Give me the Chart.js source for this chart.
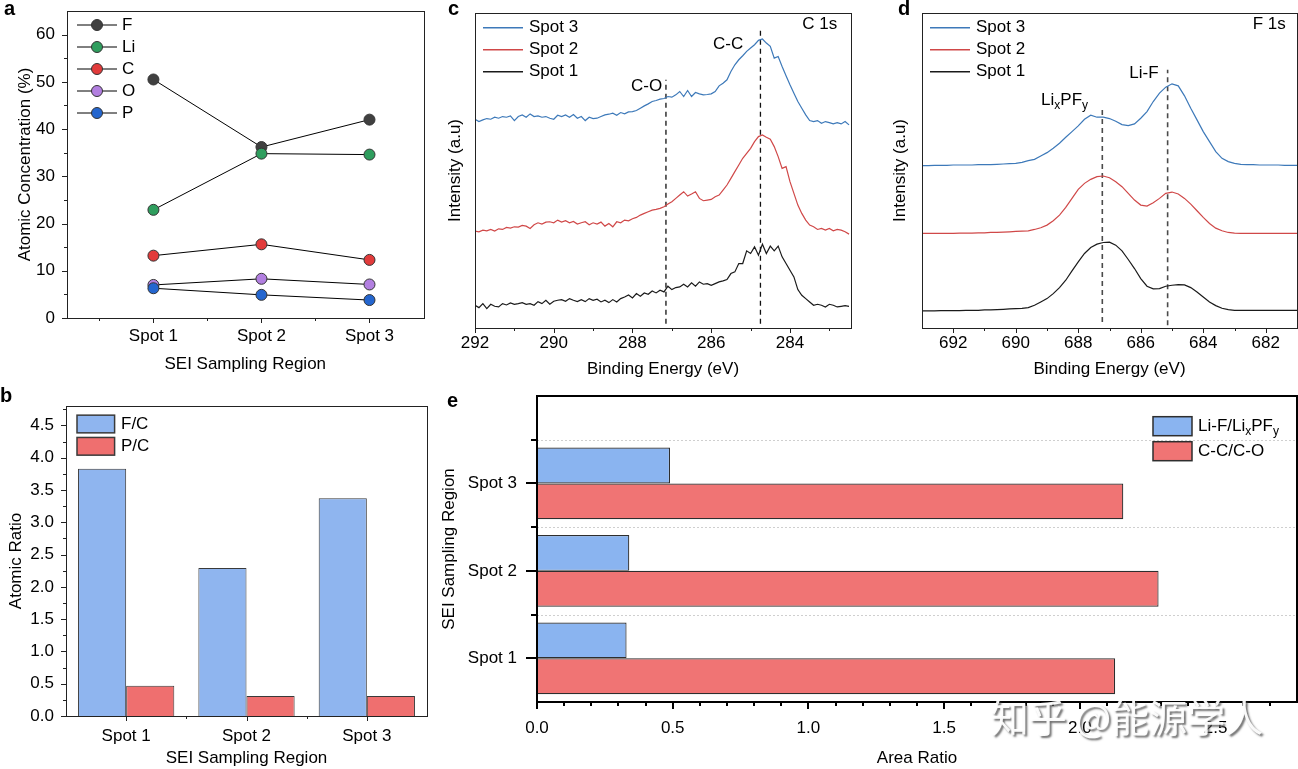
<!DOCTYPE html>
<html>
<head>
<meta charset="utf-8">
<script src="https://cdn.jsdelivr.net/npm/chart.js@4.4.1/dist/chart.umd.min.js"></script>
<style>
    body { margin: 0; background: #fff; width: 1298px; height: 769px; position: relative; overflow: hidden; }
    canvas { position: absolute; }
    .tag { position: absolute; font: bold 20px "Liberation Sans", Arial, sans-serif; line-height: 20px; color: #000; z-index: 2; }
</style>
</head>
<body>
<canvas id="chartA" width="430" height="385" style="left:0;top:0"></canvas>
<canvas id="chartB" width="430" height="384" style="left:0;top:385px"></canvas>
<canvas id="chartC" width="440" height="385" style="left:430px;top:0"></canvas>
<canvas id="chartD" width="428" height="385" style="left:870px;top:0"></canvas>
<canvas id="chartE" width="868" height="384" style="left:430px;top:385px"></canvas>
<div class="tag" style="left:4px;top:-2px">a</div>
<div class="tag" style="left:0;top:385px">b</div>
<div class="tag" style="left:448px;top:-2px">c</div>
<div class="tag" style="left:898px;top:-2px">d</div>
<div class="tag" style="left:447px;top:390px">e</div>

<script>
/* =========================================
   DATA
========================================= */

const spotLabels = ["Spot 1", "Spot 2", "Spot 3"];
const spotPositions = [1, 2, 3];

// a - atomic concentration (%)
const elementNames = ["F", "Li", "C", "O", "P"];
const fConc = [50.5, 36.2, 42.0];
const liConc = [22.9, 34.8, 34.6];
const cConc = [13.2, 15.6, 12.3];
const oConc = [7.0, 8.3, 7.1];
const pConc = [6.3, 4.9, 3.8];
const concTicks = [0, 10, 20, 30, 40, 50, 60];
const concMinorTicks = [5, 15, 25, 35, 45, 55];

// b - atomic ratio
const ratioNames = ["F/C", "P/C"];
const fcRatio = [3.83, 2.29, 3.37];
const pcRatio = [0.47, 0.31, 0.31];
const ratioTicks = [0, 0.5, 1.0, 1.5, 2.0, 2.5, 3.0, 3.5, 4.0, 4.5];
const ratioMinorTicks = [0.25, 0.75, 1.25, 1.75, 2.25, 2.75, 3.25, 3.75, 4.25, 4.75];

// c - C 1s spectra (a.u.)
const c1sEnergy = [
    292.0, 291.9, 291.8, 291.7, 291.6, 291.5, 291.4, 291.3, 291.2, 291.1,
    291.0, 290.9, 290.8, 290.7, 290.6, 290.5, 290.4, 290.3, 290.2, 290.1,
    290.0, 289.9, 289.8, 289.7, 289.6, 289.5, 289.4, 289.3, 289.2, 289.1,
    289.0, 288.9, 288.8, 288.7, 288.6, 288.5, 288.4, 288.3, 288.2, 288.1,
    288.0, 287.9, 287.8, 287.7, 287.6, 287.5, 287.4, 287.3, 287.2, 287.1,
    287.0, 286.9, 286.8, 286.7, 286.6, 286.5, 286.4, 286.3, 286.2, 286.1,
    286.0, 285.9, 285.8, 285.7, 285.6, 285.5, 285.4, 285.3, 285.2, 285.1,
    285.0, 284.9, 284.8, 284.7, 284.6, 284.5, 284.4, 284.3, 284.2, 284.1,
    284.0, 283.9, 283.8, 283.7, 283.6, 283.5, 283.4, 283.3, 283.2, 283.1,
    283.0, 282.9, 282.8, 282.7, 282.6, 282.5
];
const c1sSpot3 = [
    642, 635, 640, 644, 642, 648, 645, 650, 648, 652,
    638, 650, 655, 648, 658, 650, 652, 648, 650, 645,
    642, 654, 650, 655, 648, 656, 645, 650, 638, 648,
    644, 645, 650, 655, 657, 660, 654, 662, 658, 664,
    665, 668, 675, 682, 688, 695, 698, 702, 704, 710,
    708, 715, 725, 710, 728, 710, 722, 718, 715, 716,
    718, 725, 742, 750, 760, 785, 805, 820, 832, 845,
    855, 865, 878, 882, 870, 860, 825, 830, 800, 772,
    745, 720, 695, 675, 655, 638, 635, 638, 630, 635,
    632, 628, 632, 628, 635, 625
];
const c1sSpot2 = [
    307, 305, 310, 308, 312, 307, 314, 312, 318, 316,
    320, 319, 324, 322, 315, 326, 332, 328, 334, 335,
    332, 340, 334, 338, 332, 336, 328, 332, 335, 326,
    332, 328, 334, 322, 330, 320, 335, 332, 340, 338,
    344, 348, 355, 360, 365, 370, 372, 375, 380, 388,
    395, 405, 415, 425, 412, 418, 425, 405, 398, 400,
    402, 410, 415, 430, 445, 465, 485, 505, 525, 540,
    555, 575, 590, 595, 588, 582, 560, 530, 495, 500,
    455, 420, 385, 360, 340, 325, 320, 312, 315, 310,
    315, 308, 312, 310, 305, 298
];
const c1sSpot1 = [
    85, 78, 90, 75, 88, 82, 80, 90, 86, 92,
    88, 90, 93, 88, 90, 85, 96, 90, 100, 88,
    97, 100, 102, 97, 105, 100, 96, 102, 96, 105,
    100, 103, 95, 100, 93, 102, 95, 105, 110, 116,
    107, 120, 112, 122, 118, 128, 122, 130, 125, 142,
    132, 138, 140, 148, 140, 152, 142, 155, 148, 150,
    145, 150, 155, 158, 162, 180, 185, 210, 210, 248,
    240, 260, 235, 268, 240, 262, 248, 262, 230, 210,
    190, 170, 132, 115, 105, 95, 85, 88, 85, 80,
    88, 85, 80, 82, 84, 82
];
const c1sPeakEnergies = [287.15, 284.75];
const c1sPeakLineTops = [760, 915];
const c1sPeakLineBottom = 30;
const c1sTicks = [284, 286, 288, 290, 292];
const c1sMinorTicks = [283, 285, 287, 289, 291];

// d - F 1s spectra (a.u.)
const f1sEnergy = [
    693.0, 692.8, 692.6, 692.4, 692.2, 692.0, 691.8, 691.6, 691.4, 691.2,
    691.0, 690.8, 690.6, 690.4, 690.2, 690.0, 689.8, 689.6, 689.4, 689.2,
    689.0, 688.8, 688.6, 688.4, 688.2, 688.0, 687.8, 687.6, 687.4, 687.2,
    687.0, 686.8, 686.6, 686.4, 686.2, 686.0, 685.8, 685.6, 685.4, 685.2,
    685.0, 684.8, 684.6, 684.4, 684.2, 684.0, 683.8, 683.6, 683.4, 683.2,
    683.0, 682.8, 682.6, 682.4, 682.2, 682.0, 681.8, 681.6, 681.4, 681.2, 681.0
];
const f1sSpot3 = [
    503, 503, 504, 504, 504, 505, 505, 505, 505, 506,
    506, 506, 507, 508, 509, 510, 513, 518, 522, 532,
    542, 555, 570, 588, 605, 622, 642, 654, 648, 648,
    644, 636, 626, 623, 628, 645, 665, 695, 720, 738,
    748, 742, 712, 675, 640, 605, 575, 545, 525, 515,
    510, 507, 506, 506, 505, 505, 505, 505, 504, 504, 504
];
const f1sSpot2 = [
    300, 300, 300, 300, 300, 300, 301, 301, 301, 302,
    302, 303, 303, 304, 305, 306, 307, 308, 312, 317,
    325, 338, 355, 378, 405, 432, 450, 462, 470, 472,
    467, 455, 440, 420, 400, 385, 382, 392, 405, 420,
    424, 418, 405, 388, 368, 348, 330, 316, 308, 303,
    301, 300, 300, 300, 300, 300, 300, 300, 300, 300, 300
];
const f1sSpot1 = [
    68, 68, 68, 69, 69, 69, 69, 70, 70, 70,
    71, 71, 72, 73, 74, 75, 76, 78, 85, 95,
    105, 120, 138, 160, 188, 215, 240, 258, 268, 273,
    274, 265, 248, 222, 195, 165, 142, 134, 135, 142,
    145, 147, 146, 138, 125, 110, 95, 84, 76, 72,
    70, 70, 70, 70, 70, 70, 70, 70, 70, 70, 70
];
const f1sPeakEnergies = [687.23, 685.14];
const f1sPeakLineTops = [680, 790];
const f1sPeakLineBottoms = [35, 25];
const f1sTicks = [682, 684, 686, 688, 690, 692];
const f1sMinorTicks = [683, 685, 687, 689, 691];

const spectraNames = ["Spot 3", "Spot 2", "Spot 1"];

// e - area ratio
const areaNames = ["Li-F/Li_{x}PF_{y}", "C-C/C-O"];
const liFRatio = [0.33, 0.34, 0.49];
const ccRatio = [2.13, 2.29, 2.16];
const areaTicks = [0, 0.5, 1.0, 1.5, 2.0, 2.5];
const areaMinorTicks = [0.1, 0.2, 0.3, 0.4, 0.6, 0.7, 0.8, 0.9, 1.1, 1.2, 1.3, 1.4,
    1.6, 1.7, 1.8, 1.9, 2.1, 2.2, 2.3, 2.4, 2.6, 2.7];
const spotMidTicks = [1.5, 2.5, 3.5];


/* =========================================
   HELPERS
========================================= */

const FONT = "'Liberation Sans', Arial, Helvetica, sans-serif";

Chart.defaults.font.family = FONT;
Chart.defaults.font.size = 17;
Chart.defaults.color = "#000";
Chart.defaults.animation = false;
Chart.defaults.plugins.legend.display = false;
Chart.defaults.plugins.tooltip.enabled = false;

function fixWidth(w) {
    return function (scale) {
        scale.width = w;
        scale.paddingLeft = scale.paddingRight = scale.paddingTop = scale.paddingBottom = 0;
    };
}

function fixHeight(h) {
    return function (scale) {
        scale.height = h;
        scale.paddingLeft = scale.paddingRight = scale.paddingTop = scale.paddingBottom = 0;
    };
}

function setTicks(values) {
    return function (scale) {
        scale.ticks = values.map(v => ({ value: v }));
    };
}

// text with _{sub} parts
function drawRich(ctx, text, x, y, size, align) {
    const parts = [];
    const re = /_\{([^}]*)\}/g;
    let last = 0, m;
    while ((m = re.exec(text))) {
        if (m.index > last) parts.push({ t: text.slice(last, m.index), sub: false });
        parts.push({ t: m[1], sub: true });
        last = re.lastIndex;
    }
    if (last < text.length) parts.push({ t: text.slice(last), sub: false });

    const mainFont = size + "px " + FONT;
    const subFont = Math.round(size * 0.72) + "px " + FONT;
    let total = 0;
    parts.forEach(p => {
        ctx.font = p.sub ? subFont : mainFont;
        p.w = ctx.measureText(p.t).width;
        total += p.w;
    });
    let cx = align === "center" ? x - total / 2 : (align === "right" ? x - total : x);
    ctx.textAlign = "left";
    ctx.textBaseline = "middle";
    parts.forEach(p => {
        ctx.font = p.sub ? subFont : mainFont;
        ctx.fillText(p.t, cx, p.sub ? y + size * 0.34 : y);
        cx += p.w;
    });
}

/* =========================================
   PLUGIN - frame, ticks, legend, notes
========================================= */

const panelDecor = {
    id: "panelDecor",

    beforeDatasetsDraw(chart, args, opts) {
        if (!opts.grid) return;
        const { ctx, chartArea: a } = chart;
        const g = opts.grid;
        const scale = chart.scales[g.axis];
        ctx.save();
        ctx.strokeStyle = g.color;
        ctx.lineWidth = 1;
        ctx.setLineDash(g.dash);
        g.values.forEach(v => {
            const p = Math.round(scale.getPixelForValue(v)) + 0.5;
            ctx.beginPath();
            if (scale.isHorizontal()) {
                ctx.moveTo(p, a.top);
                ctx.lineTo(p, a.bottom);
            } else {
                ctx.moveTo(a.left, p);
                ctx.lineTo(a.right, p);
            }
            ctx.stroke();
        });
        ctx.restore();
    },

    afterDraw(chart, args, opts) {
        if (!opts.frame) return;
        const { ctx, chartArea: a } = chart;
        ctx.save();

        // frame
        const fw = opts.frame.width;
        const off = fw % 2 === 1 ? 0.5 : 0;
        ctx.strokeStyle = opts.frame.color;
        ctx.lineWidth = fw;
        ctx.strokeRect(Math.round(a.left) + off, Math.round(a.top) + off,
            Math.round(a.right) - Math.round(a.left), Math.round(a.bottom) - Math.round(a.top));

        // ticks
        (opts.ticks || []).forEach(t => {
            const scale = chart.scales[t.axis];
            ctx.lineWidth = fw;
            t.values.forEach(v => {
                const p = Math.round(scale.getPixelForValue(v)) + off;
                ctx.beginPath();
                if (scale.isHorizontal()) {
                    ctx.moveTo(p, Math.round(a.bottom));
                    ctx.lineTo(p, Math.round(a.bottom) + t.len);
                } else {
                    ctx.moveTo(Math.round(a.left), p);
                    ctx.lineTo(Math.round(a.left) - t.len, p);
                }
                ctx.stroke();
            });
        });

        // legend
        const lg = opts.legend;
        if (lg) {
            lg.datasets.forEach((di, row) => {
                const ds = chart.data.datasets[di];
                const cy = lg.y + row * lg.row;
                ctx.setLineDash([]);
                if (lg.sample === "box") {
                    ctx.fillStyle = ds.backgroundColor;
                    ctx.fillRect(lg.x, cy - lg.h / 2, lg.w, lg.h);
                    ctx.strokeStyle = ds.borderColor;
                    ctx.lineWidth = 1.5;
                    ctx.strokeRect(lg.x, cy - lg.h / 2, lg.w, lg.h);
                } else {
                    ctx.strokeStyle = ds.borderColor;
                    ctx.lineWidth = lg.lineWidth;
                    ctx.beginPath();
                    ctx.moveTo(lg.x, cy);
                    ctx.lineTo(lg.x + lg.w, cy);
                    ctx.stroke();
                    if (lg.sample === "lineMarker") {
                        ctx.beginPath();
                        ctx.arc(lg.x + lg.w / 2, cy, ds.pointRadius, 0, Math.PI * 2);
                        ctx.fillStyle = ds.pointBackgroundColor;
                        ctx.fill();
                        ctx.strokeStyle = ds.pointBorderColor;
                        ctx.lineWidth = 1;
                        ctx.stroke();
                    }
                }
                ctx.fillStyle = "#000";
                drawRich(ctx, ds.label, lg.textX, cy, 17, "left");
            });
        }

        // notes placed in data coordinates
        (opts.notes || []).forEach(n => {
            const x = chart.scales.x.getPixelForValue(n.x);
            const y = chart.scales.y.getPixelForValue(n.y);
            ctx.fillStyle = "#000";
            drawRich(ctx, n.text, x, y, 17, n.align);
        });

        // watermark
        const wm = opts.watermark;
        if (wm) {
            ctx.font = "38px 'Noto Sans CJK SC', sans-serif";
            ctx.textAlign = "center";
            ctx.textBaseline = "middle";
            ctx.shadowColor = "rgba(80,80,80,0.85)";
            ctx.shadowOffsetX = 2;
            ctx.shadowOffsetY = 2;
            ctx.shadowBlur = 2;
            ctx.fillStyle = "rgba(255,255,255,0.95)";
            ctx.fillText(wm.text, wm.x, wm.y);
        }

        ctx.restore();
    }
};

Chart.register(panelDecor);


/* =========================================
   a - ATOMIC CONCENTRATION
========================================= */

const concSeries = [fConc, liConc, cConc, oConc, pConc];
const elementColors = ["#404040", "#2f9e5e", "#e23b3b", "#b27fe0", "#2466cf"];

new Chart(document.getElementById("chartA"), {
    type: "line",
    data: {
        datasets: elementNames.map((name, i) => ({
            label: name,
            data: spotPositions.map((x, j) => ({ x: x, y: concSeries[i][j] })),
            borderColor: "#000",
            borderWidth: 1,
            pointRadius: 5.5,
            pointBackgroundColor: elementColors[i],
            pointBorderColor: "#333",
            pointBorderWidth: 1,
            order: elementNames.length - i
        }))
    },
    options: {
        responsive: false,
        layout: { padding: { left: 0, right: 1, top: 11, bottom: 0 } },
        plugins: {
            panelDecor: {
                frame: { color: "#222", width: 1 },
                ticks: [
                    { axis: "y", values: concTicks, len: 5 },
                    { axis: "y", values: concMinorTicks, len: 3 },
                    { axis: "x", values: spotPositions, len: 5 },
                    { axis: "x", values: [0.5, 1.5, 2.5], len: 3 }
                ],
                legend: { sample: "lineMarker", datasets: [0, 1, 2, 3, 4], x: 77, y: 25, row: 22, w: 40, lineWidth: 1, textX: 122 }
            }
        },
        scales: {
            x: {
                type: "linear",
                min: 0.2,
                max: 3.5,
                afterBuildTicks: setTicks(spotPositions),
                afterFit: fixHeight(67),
                grid: { display: false, drawTicks: false },
                border: { display: false },
                ticks: { padding: 8, maxRotation: 0, callback: v => spotLabels[Math.round(v) - 1] },
                title: { display: true, text: "SEI Sampling Region", padding: { top: 0, bottom: 10 } }
            },
            y: {
                min: 0,
                max: 65,
                afterBuildTicks: setTicks(concTicks),
                afterFit: fixWidth(67),
                grid: { display: false, drawTicks: false },
                border: { display: false },
                ticks: { padding: 12 },
                title: { display: true, text: "Atomic Concentration (%)", padding: { top: 15, bottom: 0 } }
            }
        }
    }
});


/* =========================================
   b - ATOMIC RATIO
========================================= */

new Chart(document.getElementById("chartB"), {
    type: "bar",
    data: {
        labels: spotLabels,
        datasets: [
            {
                label: ratioNames[0],
                data: fcRatio,
                backgroundColor: "#8fb5ef",
                borderColor: "#3a3a3a",
                borderWidth: 1,
                categoryPercentage: 0.8,
                barPercentage: 1
            },
            {
                label: ratioNames[1],
                data: pcRatio,
                backgroundColor: "#ef6f6f",
                borderColor: "#3a3a3a",
                borderWidth: 1,
                categoryPercentage: 0.8,
                barPercentage: 1
            }
        ]
    },
    options: {
        responsive: false,
        layout: { padding: { left: 0, right: 3, top: 21, bottom: 0 } },
        plugins: {
            panelDecor: {
                frame: { color: "#222", width: 1 },
                ticks: [
                    { axis: "y", values: ratioTicks, len: 5 },
                    { axis: "y", values: ratioMinorTicks, len: 3 },
                    { axis: "x", values: [0, 1, 2], len: 5 },
                    { axis: "x", values: [0.5, 1.5], len: 3 }
                ],
                legend: { sample: "box", datasets: [0, 1], x: 77, y: 39, row: 22.3, w: 37.6, h: 17.7, textX: 121 }
            }
        },
        scales: {
            x: {
                afterFit: fixHeight(53),
                grid: { display: false, drawTicks: false },
                border: { display: false },
                ticks: { padding: 10, maxRotation: 0 },
                title: { display: true, text: "SEI Sampling Region", padding: { top: 0, bottom: 0 } }
            },
            y: {
                min: 0,
                max: 4.8,
                afterBuildTicks: setTicks(ratioTicks),
                afterFit: fixWidth(66),
                grid: { display: false, drawTicks: false },
                border: { display: false },
                ticks: { padding: 12, callback: v => v.toFixed(1) },
                title: { display: true, text: "Atomic Ratio", padding: { top: 6, bottom: 0 } }
            }
        }
    }
});


/* =========================================
   c / d - XPS SPECTRA
========================================= */

const spectraColors = ["#3d79b9", "#d04848", "#1a1a1a"];

function spectraDatasets(energy, series, peakEnergies, tops, bottoms, dashColor, dashWidth) {
    const sets = series.map((s, i) => ({
        label: spectraNames[i],
        data: energy.map((e, j) => ({ x: e, y: s[j] })),
        borderColor: spectraColors[i],
        borderWidth: 1.2,
        pointRadius: 0,
        tension: 0
    }));
    peakEnergies.forEach((e, i) => {
        sets.push({
            label: "",
            data: [{ x: e, y: bottoms[i] }, { x: e, y: tops[i] }],
            borderColor: dashColor,
            borderWidth: dashWidth,
            borderDash: [5, 4],
            pointRadius: 0
        });
    });
    return sets;
}

function spectraOptions(yWidth, titlePad, rightPad, xMin, xMax, ticks, panel) {
    return {
        responsive: false,
        layout: { padding: { left: 0, right: rightPad, top: 13, bottom: 0 } },
        plugins: { panelDecor: panel },
        scales: {
            x: {
                type: "linear",
                reverse: true,
                min: xMin,
                max: xMax,
                afterBuildTicks: setTicks(ticks),
                afterFit: fixHeight(57),
                grid: { display: false, drawTicks: false },
                border: { display: false },
                ticks: { padding: 5, maxRotation: 0 },
                title: { display: true, text: "Binding Energy (eV)", padding: { top: 0, bottom: 5 } }
            },
            y: {
                min: 17,
                max: 960,
                afterFit: fixWidth(yWidth),
                grid: { display: false, drawTicks: false },
                border: { display: false },
                ticks: { display: false },
                title: { display: true, text: "Intensity (a.u)", padding: { top: titlePad, bottom: 0 } }
            }
        }
    };
}

new Chart(document.getElementById("chartC"), {
    type: "line",
    data: {
        datasets: spectraDatasets(c1sEnergy, [c1sSpot3, c1sSpot2, c1sSpot1], c1sPeakEnergies,
            c1sPeakLineTops, [c1sPeakLineBottom, c1sPeakLineBottom], "#111", 1.3)
    },
    options: spectraOptions(45, 15, 19, 282.45, 292, c1sTicks, {
        frame: { color: "#222", width: 1 },
        ticks: [
            { axis: "x", values: c1sTicks, len: 5 },
            { axis: "x", values: c1sMinorTicks, len: 3 }
        ],
        legend: { sample: "line", datasets: [0, 1, 2], x: 53, y: 27.7, row: 22, w: 40, lineWidth: 1.4, textX: 99 },
        notes: [
            { text: "C-O", x: 287.64, y: 742, align: "center" },
            { text: "C-C", x: 285.57, y: 867, align: "center" },
            { text: "C 1s", x: 282.8, y: 925, align: "right" }
        ]
    })
});

new Chart(document.getElementById("chartD"), {
    type: "line",
    data: {
        datasets: spectraDatasets(f1sEnergy, [f1sSpot3, f1sSpot2, f1sSpot1], f1sPeakEnergies,
            f1sPeakLineTops, f1sPeakLineBottoms, "#4a4a4a", 1.6)
    },
    options: spectraOptions(52, 20, 1, 681, 693, f1sTicks, {
        frame: { color: "#222", width: 1 },
        ticks: [
            { axis: "x", values: f1sTicks, len: 5 },
            { axis: "x", values: f1sMinorTicks, len: 3 }
        ],
        legend: { sample: "line", datasets: [0, 1, 2], x: 60, y: 27.7, row: 22, w: 40, lineWidth: 1.4, textX: 106 },
        notes: [
            { text: "Li_{x}PF_{y}", x: 689.19, y: 700, align: "left" },
            { text: "Li-F", x: 685.9, y: 778, align: "center" },
            { text: "F 1s", x: 681.36, y: 925, align: "right" }
        ]
    })
});


/* =========================================
   e - AREA RATIO
========================================= */

new Chart(document.getElementById("chartE"), {
    type: "bar",
    data: {
        datasets: [
            {
                label: areaNames[0],
                data: spotPositions.map((p, i) => ({ x: liFRatio[i], y: p })),
                backgroundColor: "#8ab4f0",
                borderColor: "#2e2e2e",
                borderWidth: 1.2,
                categoryPercentage: 0.82,
                barPercentage: 1
            },
            {
                label: areaNames[1],
                data: spotPositions.map((p, i) => ({ x: ccRatio[i], y: p })),
                backgroundColor: "#f07474",
                borderColor: "#2e2e2e",
                borderWidth: 1.2,
                categoryPercentage: 0.82,
                barPercentage: 1
            }
        ]
    },
    options: {
        responsive: false,
        indexAxis: "y",
        layout: { padding: { left: 0, right: 1, top: 11, bottom: 0 } },
        plugins: {
            panelDecor: {
                frame: { color: "#000", width: 2 },
                grid: { axis: "y", values: spotMidTicks, color: "#cfcfcf", dash: [2, 2] },
                ticks: [
                    { axis: "y", values: spotPositions, len: 11 },
                    { axis: "y", values: spotMidTicks, len: 6 },
                    { axis: "x", values: areaTicks, len: 7 },
                    { axis: "x", values: areaMinorTicks, len: 4 }
                ],
                legend: { sample: "box", datasets: [0, 1], x: 723, y: 41.2, row: 25, w: 39, h: 19, textX: 768 },
                watermark: { text: "知乎 @能源学人", x: 697, y: 333 }
            }
        },
        scales: {
            x: {
                type: "linear",
                min: 0,
                max: 2.8,
                afterBuildTicks: setTicks(areaTicks),
                afterFit: fixHeight(67),
                grid: { display: false, drawTicks: false },
                border: { display: false },
                ticks: { padding: 16, maxRotation: 0, callback: v => v.toFixed(1) },
                title: { display: true, text: "Area Ratio", padding: { top: 0, bottom: 0 } }
            },
            y: {
                type: "linear",
                offset: false,
                min: 0.5,
                max: 4.0,
                afterBuildTicks: setTicks(spotPositions),
                afterFit: fixWidth(107),
                grid: { display: false, drawTicks: false, offset: false },
                border: { display: false },
                ticks: { padding: 20, callback: v => spotLabels[Math.round(v) - 1] },
                title: { display: true, text: "SEI Sampling Region", padding: { top: 9, bottom: 0 } }
            }
        }
    }
});
</script>
</body>
</html>
